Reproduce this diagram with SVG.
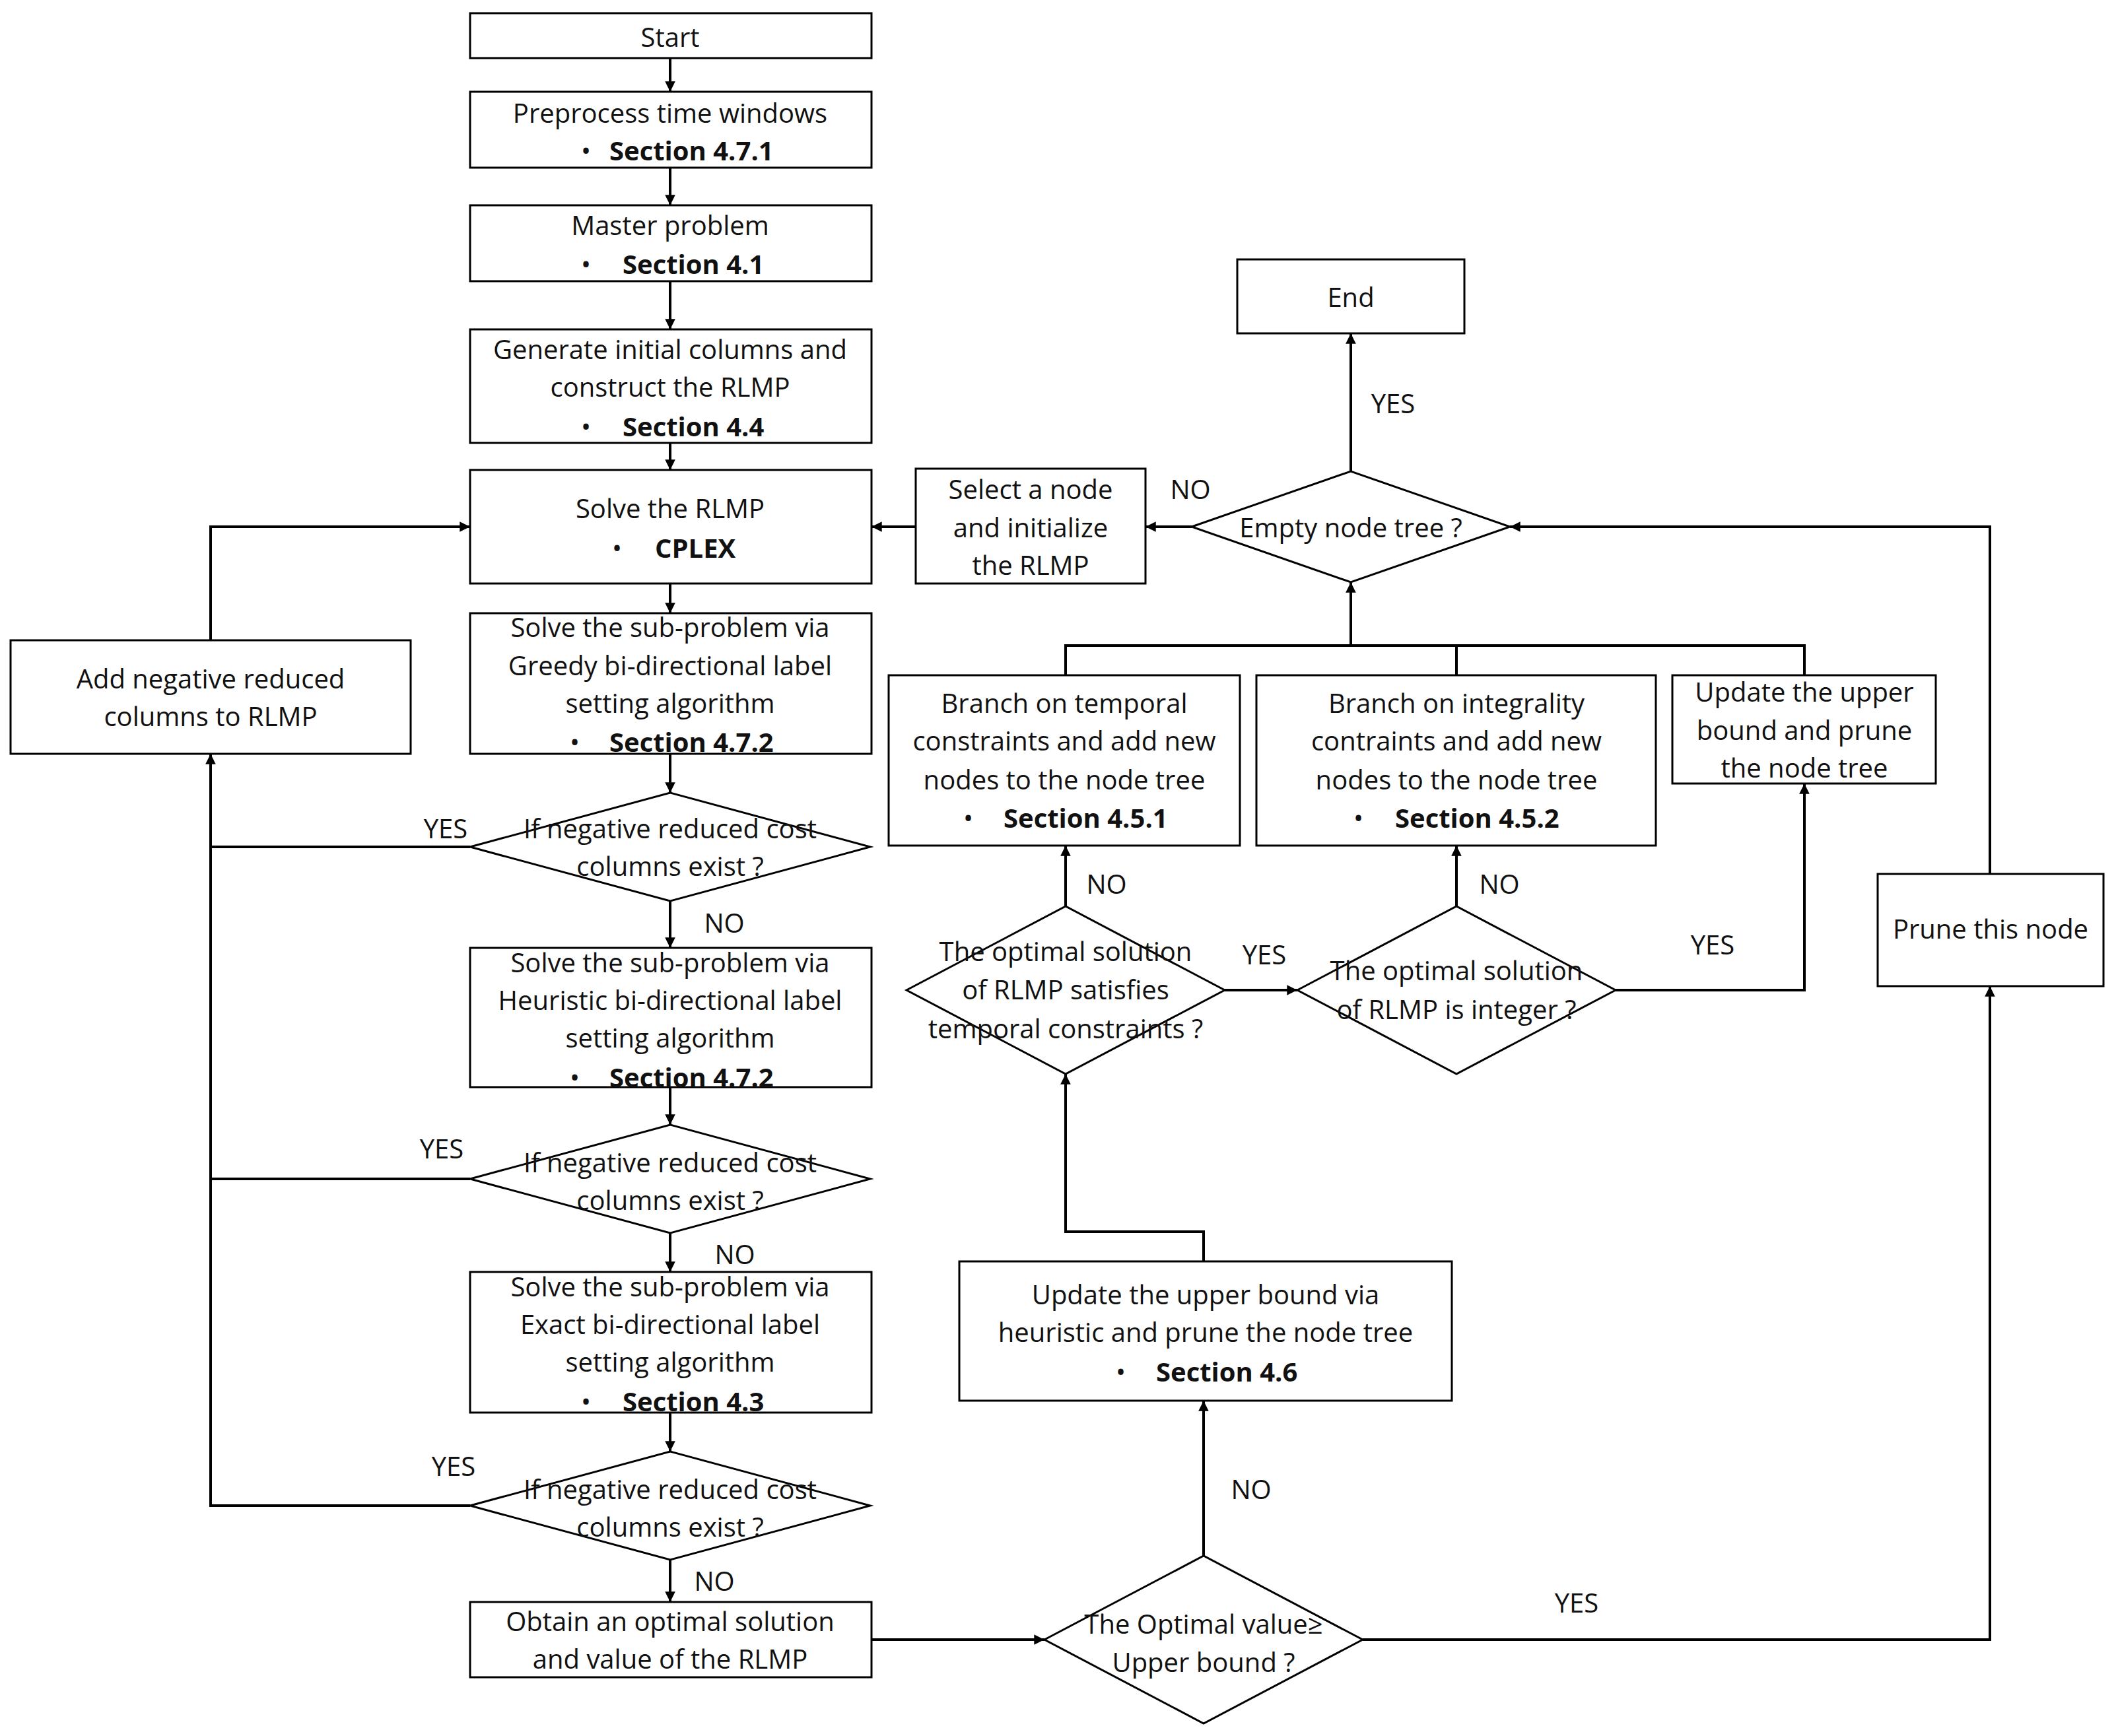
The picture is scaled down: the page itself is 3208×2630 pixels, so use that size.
<svg xmlns="http://www.w3.org/2000/svg" width="3208" height="2630" viewBox="0 0 3208 2630">
<defs>
<marker id="a" viewBox="0 0 10 10" refX="10" refY="5" markerWidth="6" markerHeight="6" orient="auto" markerUnits="userSpaceOnUse" style="overflow:visible"><path d="M0,0 L10,5 L0,10 z" fill="#000" transform="scale(2.6) translate(-6.2,-3.1)"/></marker>
<style>
rect,polygon{fill:#fff;stroke:#000;stroke-width:3}
.c path{fill:none;stroke:#000;stroke-width:4}
text{font-family:"Open Sans","Liberation Sans",sans-serif;font-size:40px;dominant-baseline:central;fill:#111}
.m{text-anchor:middle}
.b{font-weight:bold}
</style>
</defs>
<rect x="0" y="0" width="3208" height="2630" style="fill:#fff;stroke:none"/>
<g class="c">
<path d="M1015,88V139" marker-end="url(#a)"/>
<path d="M1015,254V311" marker-end="url(#a)"/>
<path d="M1015,426V499" marker-end="url(#a)"/>
<path d="M1015,671V712" marker-end="url(#a)"/>
<path d="M1015,884V929" marker-end="url(#a)"/>
<path d="M1015,1142V1201" marker-end="url(#a)"/>
<path d="M1015,1365V1436" marker-end="url(#a)"/>
<path d="M1015,1647V1704" marker-end="url(#a)"/>
<path d="M1015,1868V1927" marker-end="url(#a)"/>
<path d="M1015,2140V2199" marker-end="url(#a)"/>
<path d="M1015,2363V2427" marker-end="url(#a)"/>
<path d="M712,1283H319M712,1786H319M712,2281H319V1142" marker-end="url(#a)"/>
<path d="M319,970V798H712" marker-end="url(#a)"/>
<path d="M1320,2484H1582" marker-end="url(#a)"/>
<path d="M2064,2484H3014V1494" marker-end="url(#a)"/>
<path d="M3014,1324V798H2287" marker-end="url(#a)"/>
<path d="M2046,714V505" marker-end="url(#a)"/>
<path d="M1805,798H1735" marker-end="url(#a)"/>
<path d="M1387,798H1320" marker-end="url(#a)"/>
<path d="M1614,1023V978H2733V1023M2206,978V1023"/>
<path d="M2046,978V882" marker-end="url(#a)"/>
<path d="M1614,1373V1281" marker-end="url(#a)"/>
<path d="M1855,1500H1965" marker-end="url(#a)"/>
<path d="M2206,1373V1281" marker-end="url(#a)"/>
<path d="M2447,1500H2733V1187" marker-end="url(#a)"/>
<path d="M1823,2357V2122" marker-end="url(#a)"/>
<path d="M1823,1911V1866H1614V1627" marker-end="url(#a)"/>
</g>
<g id="start"><rect x="712" y="20" width="608" height="68"/><text class="m" x="1015" y="55">Start</text></g>
<g id="pre"><rect x="712" y="139" width="608" height="115"/><text class="m" x="1015" y="170">Preprocess time windows</text><text x="880" y="227">•</text><text class="b" x="923" y="227">Section 4.7.1</text></g>
<g id="master"><rect x="712" y="311" width="608" height="115"/><text class="m" x="1015" y="340">Master problem</text><text x="880" y="399">•</text><text class="b" x="943" y="399">Section 4.1</text></g>
<g id="gen"><rect x="712" y="499" width="608" height="172"/><text class="m" x="1015" y="528">Generate initial columns and</text><text class="m" x="1015" y="585">construct the RLMP</text><text x="880" y="645">•</text><text class="b" x="943" y="645">Section 4.4</text></g>
<g id="solve"><rect x="712" y="712" width="608" height="172"/><text class="m" x="1015" y="769">Solve the RLMP</text><text x="927" y="829">•</text><text class="b" x="992" y="829">CPLEX</text></g>
<g id="greedy"><rect x="712" y="929" width="608" height="213"/><text class="m" x="1015" y="949">Solve the sub-problem via</text><text class="m" x="1015" y="1007">Greedy bi-directional label</text><text class="m" x="1015" y="1064">setting algorithm</text><text x="863" y="1123">•</text><text class="b" x="923" y="1123">Section 4.7.2</text></g>
<g id="d1"><polygon points="712,1283 1015,1201 1318,1283 1015,1365"/><text class="m" x="1015" y="1254">If negative reduced cost</text><text class="m" x="1015" y="1311">columns exist ?</text></g>
<g id="heur"><rect x="712" y="1436" width="608" height="211"/><text class="m" x="1015" y="1457">Solve the sub-problem via</text><text class="m" x="1015" y="1514">Heuristic bi-directional label</text><text class="m" x="1015" y="1571">setting algorithm</text><text x="863" y="1631">•</text><text class="b" x="923" y="1631">Section 4.7.2</text></g>
<g id="d2"><polygon points="712,1786 1015,1704 1318,1786 1015,1868"/><text class="m" x="1015" y="1760">If negative reduced cost</text><text class="m" x="1015" y="1817">columns exist ?</text></g>
<g id="exact"><rect x="712" y="1927" width="608" height="213"/><text class="m" x="1015" y="1948">Solve the sub-problem via</text><text class="m" x="1015" y="2005">Exact bi-directional label</text><text class="m" x="1015" y="2062">setting algorithm</text><text x="880" y="2122">•</text><text class="b" x="943" y="2122">Section 4.3</text></g>
<g id="d3"><polygon points="712,2281 1015,2199 1318,2281 1015,2363"/><text class="m" x="1015" y="2255">If negative reduced cost</text><text class="m" x="1015" y="2312">columns exist ?</text></g>
<g id="obtain"><rect x="712" y="2427" width="608" height="114"/><text class="m" x="1015" y="2455">Obtain an  optimal solution</text><text class="m" x="1015" y="2512">and value of the RLMP</text></g>
<g id="addneg"><rect x="16" y="970" width="606" height="172"/><text class="m" x="319" y="1027">Add negative reduced</text><text class="m" x="319" y="1084">columns to RLMP</text></g>
<g id="dopt"><polygon points="1582,2484 1823,2357 2064,2484 1823,2611"/><text class="m" x="1823" y="2459">The Optimal value≥</text><text class="m" x="1823" y="2517">Upper bound ?</text></g>
<g id="prune"><rect x="2844" y="1324" width="342" height="170"/><text class="m" x="3015" y="1406">Prune this node</text></g>
<g id="empty"><polygon points="1805,798 2046,714 2287,798 2046,882"/><text class="m" x="2046" y="798">Empty node tree ?</text></g>
<g id="end"><rect x="1874" y="393" width="344" height="112"/><text class="m" x="2046" y="449">End</text></g>
<g id="select"><rect x="1387" y="710" width="348" height="174"/><text class="m" x="1561" y="740">Select a node</text><text class="m" x="1561" y="798">and initialize</text><text class="m" x="1561" y="855">the RLMP</text></g>
<g id="btemp"><rect x="1346" y="1023" width="532" height="258"/><text class="m" x="1612" y="1064">Branch on temporal</text><text class="m" x="1612" y="1121">constraints and add new</text><text class="m" x="1612" y="1180">nodes to the node tree</text><text x="1459" y="1238">•</text><text class="b" x="1520" y="1238">Section 4.5.1</text></g>
<g id="bint"><rect x="1903" y="1023" width="605" height="258"/><text class="m" x="2206" y="1064">Branch on  integrality</text><text class="m" x="2206" y="1121">contraints  and add new</text><text class="m" x="2206" y="1180">nodes to the node tree</text><text x="2050" y="1238">•</text><text class="b" x="2113" y="1238">Section 4.5.2</text></g>
<g id="upd"><rect x="2533" y="1023" width="399" height="164"/><text class="m" x="2733" y="1047">Update the upper</text><text class="m" x="2733" y="1105">bound and prune</text><text class="m" x="2733" y="1162">the node tree</text></g>
<g id="dtemp"><polygon points="1373,1500 1614,1373 1855,1500 1614,1627"/><text class="m" x="1614" y="1440">The optimal solution</text><text class="m" x="1614" y="1498">of RLMP satisfies</text><text class="m" x="1614" y="1557">temporal constraints ?</text></g>
<g id="dint"><polygon points="1965,1500 2206,1373 2447,1500 2206,1627"/><text class="m" x="2206" y="1469">The optimal solution</text><text class="m" x="2206" y="1528">of RLMP is integer ?</text></g>
<g id="updh"><rect x="1453" y="1911" width="746" height="211"/><text class="m" x="1826" y="1960">Update the upper bound via</text><text class="m" x="1826" y="2017">heuristic and prune the node tree</text><text x="1690" y="2077">•</text><text class="b" x="1751" y="2077">Section 4.6</text></g>
<g id="labels">
<text class="m" x="675" y="1254">YES</text><text class="m" x="669" y="1739">YES</text><text class="m" x="687" y="2220">YES</text>
<text class="m" x="1097" y="1397">NO</text><text class="m" x="1113" y="1899">NO</text><text class="m" x="1082" y="2394">NO</text>
<text class="m" x="2110" y="610">YES</text><text class="m" x="1803" y="740">NO</text>
<text class="m" x="1676" y="1338">NO</text><text class="m" x="1915" y="1445">YES</text><text class="m" x="2271" y="1338">NO</text><text class="m" x="2594" y="1430">YES</text>
<text class="m" x="1895" y="2255">NO</text><text class="m" x="2388" y="2427">YES</text>
</g>
</svg>
